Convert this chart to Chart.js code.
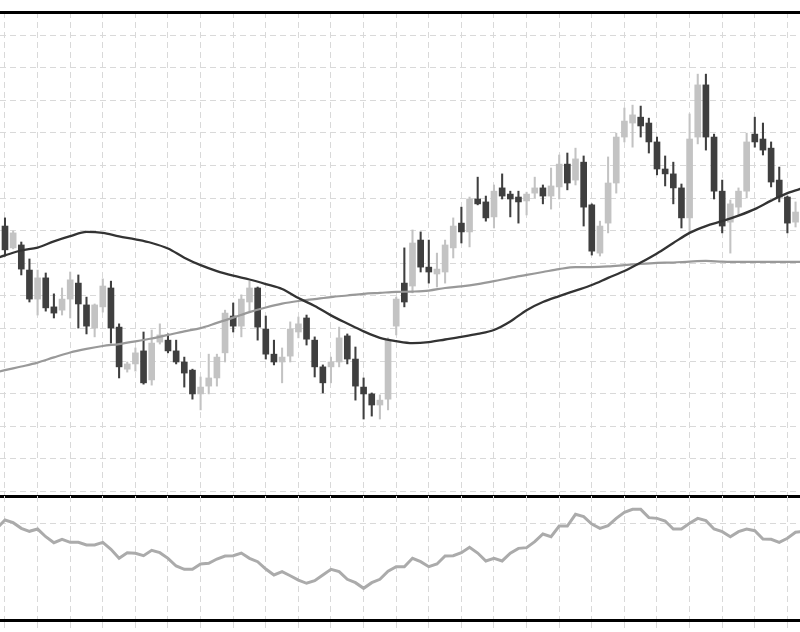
<!DOCTYPE html>
<html><head><meta charset="utf-8">
<script src="https://cdn.jsdelivr.net/npm/chart.js@4.4.1/dist/chart.umd.min.js"></script>
<style>
html,body{margin:0;padding:0;background:#fff;width:800px;height:632px;overflow:hidden;}
#c1{position:absolute;left:0;top:0;}
#c2{position:absolute;left:0;top:496px;}
</style></head><body>
<canvas id="c1" width="800" height="498"></canvas>
<canvas id="c2" width="800" height="136"></canvas>
<script>
// ---- candle data (index 0..97) ----
const opens = [91.4,84.7,85.6,77.9,69.0,75.5,66.6,65.6,69.0,73.9,
  67.2,60.1,66.6,72.4,60.4,47.5,49.1,53.1,44.2,55.8,
  56.4,53.1,49.7,47.2,39.9,42.3,44.8,52.5,63.8,60.7,
  68.1,72.4,59.8,52.1,49.7,51.5,58.9,63.2,56.4,48.2,
  48.2,49.7,57.7,50.6,42.0,39.9,36.5,38.3,60.7,73.9,
  73.0,87.1,78.8,76.7,77.3,84.7,92.3,89.6,99.7,98.8,
  94.2,103.1,101.2,100.3,99.1,101.5,103.1,100.6,103.4,110.4,
  105.5,111.0,97.9,83.1,92.3,104.6,118.7,123.0,124.8,123.0,
  117.2,108.9,107.4,103.1,93.9,118.7,134.7,118.7,102.1,92.6,
  97.2,102.1,119.6,118.1,115.3,105.5,100.3,92.6];
const closes = [84.1,89.3,78.2,69.0,75.5,66.3,64.7,69.0,74.9,67.5,
  60.7,67.2,73.0,60.1,48.2,49.1,52.5,43.3,55.5,58.0,
  53.1,49.7,46.3,39.9,42.0,44.8,51.2,64.7,60.7,69.0,
  72.4,60.4,52.1,49.7,51.2,59.8,61.4,56.7,48.2,43.3,
  49.7,57.1,50.6,42.3,39.9,36.5,38.0,56.4,69.0,68.1,
  86.2,78.8,77.3,78.2,85.6,91.4,89.6,99.7,98.2,93.9,
  102.1,100.6,99.7,98.8,101.2,103.1,100.6,103.7,110.4,104.6,
  112.0,97.2,83.7,91.4,104.6,118.7,123.6,125.5,122.1,117.2,
  108.9,107.4,103.1,93.9,118.1,134.7,118.7,102.1,91.4,98.2,
  102.1,117.2,117.2,114.7,104.9,100.3,92.3,95.7];
const highs = [93.9,89.9,86.5,81.3,77.9,77.0,70.6,72.4,77.3,76.4,
  69.6,67.5,75.2,74.5,61.4,49.7,54.0,58.9,59.5,61.4,
  58.3,56.4,51.2,47.5,45.1,52.1,52.1,65.6,67.8,70.3,
  74.5,72.7,63.8,56.4,54.0,62.0,63.5,64.1,57.4,48.8,
  51.2,60.4,58.3,54.3,44.8,40.2,39.6,57.1,69.6,84.7,
  90.2,89.6,87.1,83.1,87.1,93.9,97.2,100.3,106.4,100.6,
  104.0,107.4,102.1,102.1,101.8,106.4,104.0,109.2,113.2,113.8,
  115.3,112.9,98.2,92.9,112.6,119.9,127.6,128.5,128.2,124.5,
  118.7,112.9,111.0,104.3,125.8,138.0,138.0,119.6,105.5,99.4,
  103.1,119.9,124.8,123.0,117.2,109.5,100.6,98.8];
const lows = [82.2,84.4,76.4,68.1,64.1,65.3,63.2,64.1,63.2,60.1,
  58.3,57.4,65.0,55.5,44.8,46.6,46.9,42.9,42.6,55.2,
  52.5,49.1,42.0,38.3,35.0,39.9,42.3,49.7,58.9,57.4,
  65.3,56.4,50.6,48.8,43.3,49.7,57.1,54.9,45.1,40.2,
  43.3,48.2,49.1,38.0,32.2,33.1,32.2,35.0,58.0,66.6,
  70.9,77.3,73.9,72.7,73.9,81.6,86.2,85.0,97.9,92.9,
  90.8,99.7,94.2,92.3,94.8,100.0,98.2,96.6,99.7,102.5,
  104.0,91.4,82.5,82.2,89.3,101.5,117.2,115.6,118.7,113.8,
  107.1,103.7,98.2,90.8,89.6,116.6,114.7,99.7,89.3,83.1,
  94.8,100.0,115.6,113.2,103.4,98.8,89.3,91.1];

// ---- moving averages, read at every second candle (plus one beyond each edge) ----
const maIdx = [-1].concat(Array.from({length: 50}, (_, k) => 2 * k));
const maFast = [81.6,82.4,83.9,84.8,86.7,88.3,89.6,89.3,88.2,87.3,86.2,84.5,81.7,79.4,77.6,76.2,75.0,73.6,72.1,69.3,
  66.9,64.0,61.5,59.1,57.1,56.1,55.5,55.8,56.6,57.4,58.3,59.5,62.1,65.6,68.1,69.9,71.6,73.3,75.5,77.6,
  80.2,83.0,86.2,89.3,91.4,92.9,94.6,96.6,99.2,101.5,103.1];
const maSlow = [46.6,47.2,48.3,49.5,51.1,52.6,53.7,54.6,55.2,56.0,56.9,58.0,59.1,60.1,61.7,63.3,65.0,66.4,67.6,68.4,
  69.0,69.6,70.1,70.6,70.9,71.2,71.3,71.6,72.4,72.9,73.6,74.5,75.5,76.4,77.3,78.2,78.8,78.8,79.0,79.4,
  79.8,80.1,80.2,80.5,80.7,80.5,80.4,80.4,80.4,80.4,80.4];

// ---- oscillator (index -1..98) ----
const oscIdx = Array.from({length: 100}, (_, k) => k - 1);
const osc = [76.4,
  83.3,81.1,76.4,73.9,75.8,69.4,64.4,67.2,64.7,64.7,
  62.5,62.5,64.7,58.9,51.4,56.1,55.6,53.6,58.1,56.1,
  51.4,45.0,42.2,42.2,46.7,47.2,50.8,53.3,53.6,55.8,
  51.4,48.6,42.5,37.5,40.3,36.9,33.3,30.6,32.8,37.5,
  42.2,40.3,33.9,31.1,26.4,31.1,33.9,40.6,44.4,44.4,
  51.4,48.6,44.4,46.7,53.3,53.6,56.1,60.6,55.8,49.2,
  51.4,49.2,55.6,59.7,60.3,65.3,71.7,69.4,78.3,78.3,
  88.1,86.1,80.0,76.4,78.6,84.7,89.7,92.2,92.2,85.3,
  84.7,82.5,75.8,75.8,80.6,84.7,82.8,75.8,73.6,69.4,
  73.6,75.8,74.4,67.5,67.2,64.7,68.1,73.1,74.0];

// ---- grid tick values ----
const xGrid = Array.from({length: 25}, (_, k) => 4 * k);
const priceGrid = [10,20,30,40,50,60,70,80,90,100,110,120,130,140,150];
const oscGrid = [80];

const X_MIN = -0.613, X_MAX = 97.546;
const P_MIN = 8.59, P_MAX = 157.06;
const O_MIN = 0, O_MAX = 103.33;

const DARK = '#3f3f3f', LIGHT = '#c3c3c3', GRID = '#d9d9d9';
const idx = opens.map((_, i) => i);
const candleColor = idx.map(i => closes[i] >= opens[i] ? LIGHT : DARK);

const xAxis = (extra) => Object.assign({
  type: 'linear', min: X_MIN, max: X_MAX, offset: false,
  afterBuildTicks: s => { s.ticks = xGrid.map(v => ({value: v})); },
  ticks: {display: false},
  grid: {display: true, color: GRID, lineWidth: 1, drawTicks: false, offset: false},
  border: {display: true, color: '#000', width: 3, dash: [6, 4]}
}, extra || {});

new Chart(document.getElementById('c1'), {
  type: 'bar',
  data: {
    datasets: [
      {type: 'line', label: 'MA fast', data: maIdx.map((x, k) => ({x, y: maFast[k]})),
       borderColor: '#333333', borderWidth: 2.3, pointRadius: 0, cubicInterpolationMode: 'monotone', order: 1},
      {type: 'line', label: 'MA slow', data: maIdx.map((x, k) => ({x, y: maSlow[k]})),
       borderColor: '#999999', borderWidth: 2.2, pointRadius: 0, cubicInterpolationMode: 'monotone', order: 1},
      {type: 'bar', label: 'body', data: idx.map(i => ({x: i, y: [opens[i], closes[i]]})),
       backgroundColor: candleColor, barThickness: 6, grouped: false, minBarLength: 1, order: 2},
      {type: 'bar', label: 'wick', data: idx.map(i => ({x: i, y: [lows[i], highs[i]]})),
       backgroundColor: candleColor, barThickness: 1.4, grouped: false, order: 3}
    ]
  },
  options: {
    responsive: false, animation: false, devicePixelRatio: 1,
    layout: {padding: {top: 12, bottom: 2, left: 0, right: 0}},
    plugins: {legend: {display: false}, tooltip: {enabled: false}},
    scales: {
      x: xAxis({position: 'bottom'}),
      xTop: {type: 'linear', position: 'top', min: X_MIN, max: X_MAX,
        ticks: {display: false}, grid: {display: false, drawTicks: false},
        border: {display: true, color: '#000', width: 3}},
      y: {type: 'linear', min: P_MIN, max: P_MAX,
        afterBuildTicks: s => { s.ticks = priceGrid.map(v => ({value: v})); },
        ticks: {display: false},
        grid: {color: GRID, lineWidth: 1, drawTicks: false},
        border: {display: false, dash: [6, 4]}}
    }
  }
});

new Chart(document.getElementById('c2'), {
  type: 'line',
  data: {
    datasets: [
      {label: 'Oscillator', data: oscIdx.map((x, k) => ({x, y: osc[k]})),
       borderColor: '#ababab', borderWidth: 3, pointRadius: 0, tension: 0}
    ]
  },
  options: {
    responsive: false, animation: false, devicePixelRatio: 1,
    layout: {padding: 0},
    plugins: {legend: {display: false}, tooltip: {enabled: false}},
    scales: {
      x: xAxis({position: 'bottom',
        grid: {display: true, color: GRID, lineWidth: 1, drawTicks: true, tickLength: 12,
               tickColor: GRID, tickBorderDash: [6, 4], offset: false}}),
      y: {type: 'linear', min: O_MIN, max: O_MAX,
        afterBuildTicks: s => { s.ticks = oscGrid.map(v => ({value: v})); },
        ticks: {display: false},
        grid: {color: GRID, lineWidth: 1, drawTicks: false},
        border: {display: false, dash: [6, 4]}}
    }
  }
});
</script></body></html>
